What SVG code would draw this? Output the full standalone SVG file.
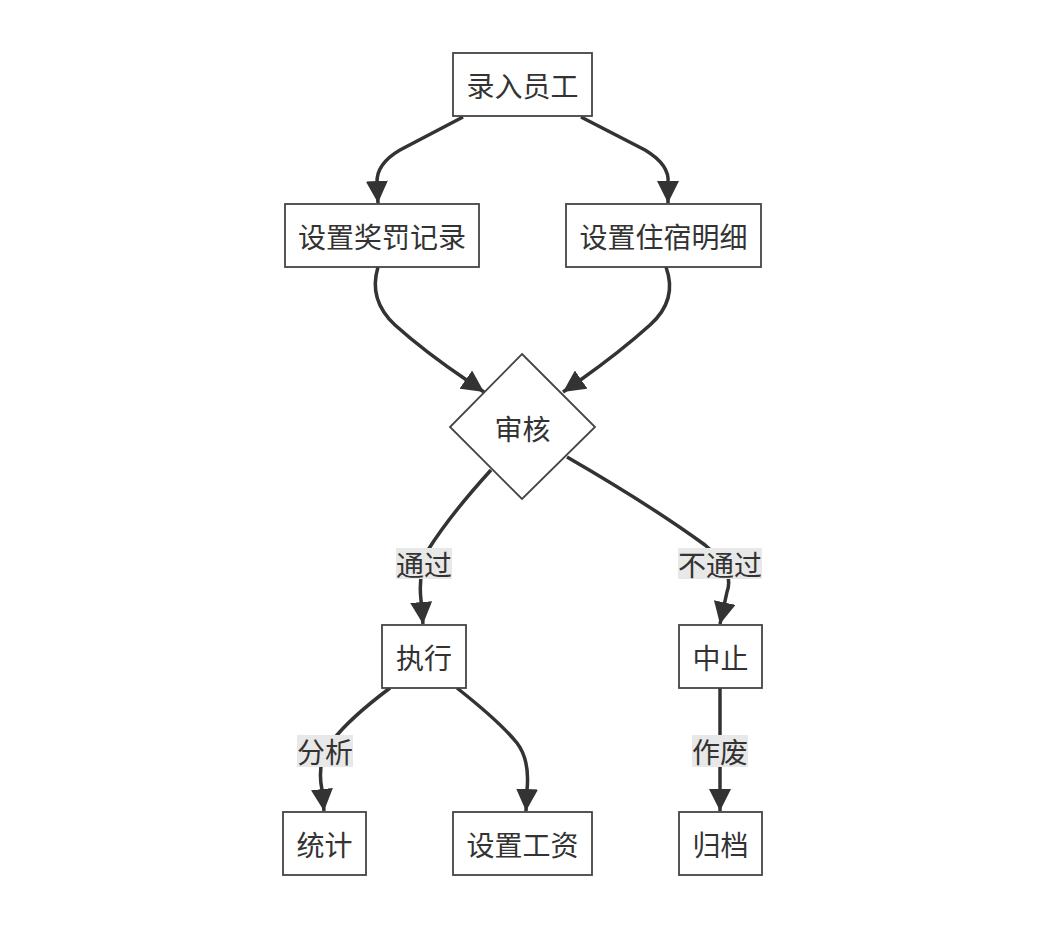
<svg xmlns="http://www.w3.org/2000/svg" width="1046" height="932" viewBox="0 0 1046 932">
<style>
.node rect, .node polygon { fill: #ffffff; stroke: #444444; stroke-width: 1.8; }
.node text { font-family: "Noto Sans CJK SC", "Noto Sans", sans-serif; font-size: 28px; fill: #333333; text-anchor: middle; dominant-baseline: central; }
.edge { fill: none; stroke: #333333; stroke-width: 3.5; marker-end: url(#arrow); }
.lbl rect { fill: #e8e8e8; stroke: none; }
.lbl text { font-family: "Noto Sans CJK SC", "Noto Sans", sans-serif; font-size: 28px; fill: #333333; text-anchor: middle; dominant-baseline: central; }
</style>
<defs>
<marker id="arrow" viewBox="0 0 10 10" refX="10" refY="5" markerWidth="22" markerHeight="22" markerUnits="userSpaceOnUse" orient="auto">
<path d="M0,0 L10,5 L0,10 z" fill="#333333"/>
</marker>
</defs>
<rect width="1046" height="932" fill="#ffffff"/>
<g id="connectors">
<path class="edge" d="M463,117 L400,150 Q376,164 377,183 L378,203"/>
<path class="edge" d="M581,117 L645,150 Q670,165 668,183 L668,203"/>
<path class="edge" d="M378,267 Q368,300 395,325 Q425,352 468,381 L484,392"/>
<path class="edge" d="M666,267 Q678,300 650,325 Q620,352 579,381 L563,392"/>
<path class="edge" d="M491,470 Q450,515 428,550 Q418,575 421,600 L423,624"/>
<path class="edge" d="M567,457 Q650,505 705,545 Q735,570 727,592 L720,624"/>
<path class="edge" d="M390,688 Q350,718 333,740 Q316,760 322,790 L324,811"/>
<path class="edge" d="M457,688 Q500,722 517,743 Q530,760 527,790 L526,811"/>
<path class="edge" d="M720,688 L720,811"/>
</g>
<g id="edge-labels">
<g class="lbl" id="label-tongguo"><rect x="396" y="548" width="56" height="31"/><text x="424" y="563.5">通过</text></g>
<g class="lbl" id="label-butongguo"><rect x="678" y="548" width="84" height="31"/><text x="720" y="563.5">不通过</text></g>
<g class="lbl" id="label-fenxi"><rect x="297" y="735" width="56" height="32"/><text x="325" y="751">分析</text></g>
<g class="lbl" id="label-zuofei"><rect x="692" y="735" width="56" height="32"/><text x="720" y="751">作废</text></g>
</g>
<g class="node" id="n-luru"><rect x="453" y="53" width="139" height="63"/><text x="522.5" y="85">录入员工</text></g>
<g class="node" id="n-jiangfa"><rect x="285" y="204" width="194" height="63"/><text x="382" y="236">设置奖罚记录</text></g>
<g class="node" id="n-zhusu"><rect x="566" y="204" width="195" height="63"/><text x="663.5" y="236">设置住宿明细</text></g>
<g class="node" id="n-shenhe"><polygon points="522,354 595,427 522,499 450,427"/><text x="522.5" y="428">审核</text></g>
<g class="node" id="n-zhixing"><rect x="382" y="625" width="84" height="63"/><text x="424" y="657">执行</text></g>
<g class="node" id="n-zhongzhi"><rect x="679" y="625" width="83" height="63"/><text x="720.5" y="657">中止</text></g>
<g class="node" id="n-tongji"><rect x="283" y="812" width="83" height="63"/><text x="324.5" y="844">统计</text></g>
<g class="node" id="n-gongzi"><rect x="453" y="812" width="139" height="63"/><text x="522.5" y="844">设置工资</text></g>
<g class="node" id="n-guidang"><rect x="679" y="812" width="83" height="63"/><text x="720.5" y="844">归档</text></g>
</svg>
